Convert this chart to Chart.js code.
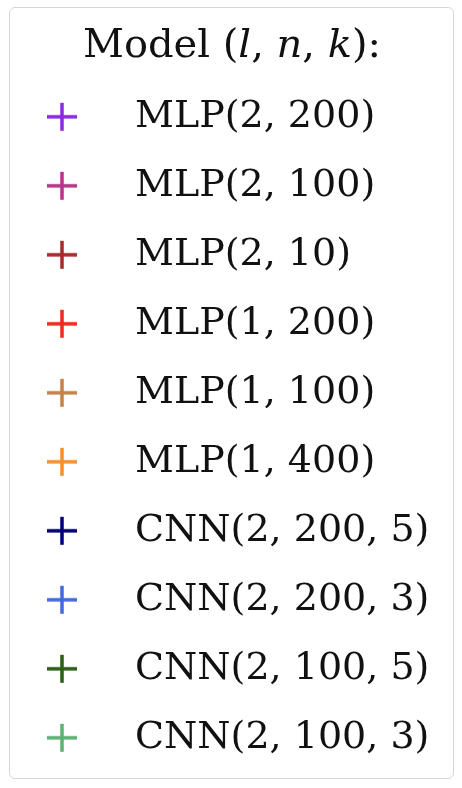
<!DOCTYPE html>
<html>
<head>
<meta charset="utf-8">
<script src="https://cdn.jsdelivr.net/npm/chart.js@4"></script>
<style>
  html, body { margin: 0; padding: 0; background: #fff; }
  #wrap { position: relative; width: 462px; height: 788px; }
  #frame { position: absolute; left: 9px; top: 7px; width: 445px; height: 772px;
           border: 1.5px solid #d6d6d6; border-radius: 6px; box-sizing: border-box; }
</style>
</head>
<body>
<div id="wrap">
  <div id="frame"></div>
  <canvas id="c" width="462" height="788"></canvas>
</div>
<script>
// legend entries
const models = ['MLP(2, 200)', 'MLP(2, 100)', 'MLP(2, 10)', 'MLP(1, 200)', 'MLP(1, 100)',
                'MLP(1, 400)', 'CNN(2, 200, 5)', 'CNN(2, 200, 3)', 'CNN(2, 100, 5)', 'CNN(2, 100, 3)'];
const colors = ['#8a2be2', '#b5358c', '#a52a2a', '#f02a1c', '#c4824a',
                '#f5902e', '#00007a', '#4169e1', '#2b5e16', '#5cb173'];

const MARK_W = 75;

// cross marker as an image so the gap to the text can be wide
function crossImage(color) {
    const c = document.createElement('canvas');
    c.width = MARK_W; c.height = 34;
    const g = c.getContext('2d');
    g.strokeStyle = color;
    g.lineWidth = 3.5;
    g.beginPath();
    g.moveTo(21 - 15, 17); g.lineTo(21 + 15, 17);
    g.moveTo(21, 17 - 14); g.lineTo(21, 17 + 14);
    g.stroke();
    return c;
}

// title with italic l, n, k
const titlePlugin = {
    id: 'mixedTitle',
    afterDraw(chart) {
        const ctx = chart.ctx;
        const parts = [['Model (', false], ['l', true], [', ', false], ['n', true],
                       [', ', false], ['k', true], ['):', false]];
        const size = 40;
        const font = it => (it ? 'italic ' : '') + size + 'px "DejaVu Serif"';
        ctx.save();
        let total = 0;
        parts.forEach(p => { ctx.font = font(p[1]); total += ctx.measureText(p[0]).width; });
        let x = 232 - total / 2;
        ctx.fillStyle = '#111';
        ctx.textBaseline = 'middle';
        parts.forEach(p => {
            ctx.font = font(p[1]);
            ctx.fillText(p[0], x, 47);
            x += ctx.measureText(p[0]).width;
        });
        ctx.restore();
    }
};

new Chart(document.getElementById('c'), {
    type: 'scatter',
    data: {
        datasets: models.map((m, i) => ({
            label: m,
            data: [],
            pointStyle: crossImage(colors[i]),
            borderColor: colors[i],
            backgroundColor: colors[i]
        }))
    },
    options: {
        responsive: false,
        animation: false,
        layout: { padding: { left: 10, top: 0 } },
        scales: { x: { display: false }, y: { display: false } },
        plugins: {
            tooltip: { enabled: false },
            legend: {
                position: 'top',
                align: 'start',
                maxHeight: 788,
                title: { display: true, text: ' ', font: { size: 34 }, padding: { top: 10, bottom: 16 } },
                labels: {
                    usePointStyle: true,
                    pointStyleWidth: MARK_W,
                    boxHeight: 21,
                    padding: 31,
                    color: '#111',
                    font: { family: '"DejaVu Serif"', size: 38 }
                }
            }
        }
    },
    plugins: [titlePlugin]
});
</script>
</body>
</html>
